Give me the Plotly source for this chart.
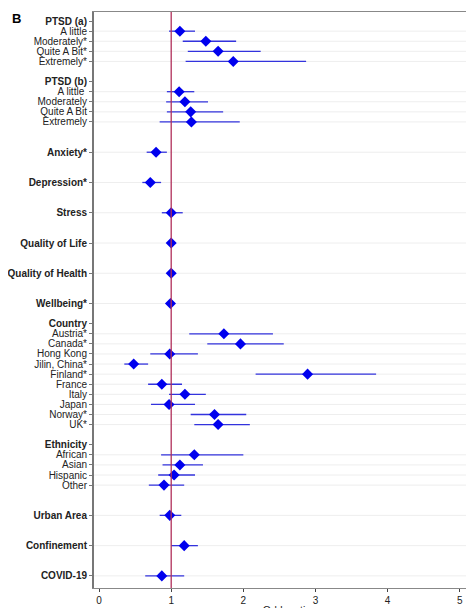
import plotly.graph_objects as go

labels = ["PTSD (a)", "A little", "Moderately*", "Quite A Bit*", "Extremely*",
          "PTSD (b)", "A little ", "Moderately", "Quite A Bit", "Extremely",
          "Anxiety*", "Depression*", "Stress", "Quality of Life", "Quality of Health", "Wellbeing*",
          "Country", "Austria*", "Canada*", "Hong Kong", "Jilin, China*", "Finland*", "France", "Italy",
          "Japan", "Norway*", "UK*",
          "Ethnicity", "African", "Asian", "Hispanic", "Other",
          "Urban Area", "Confinement", "COVID-19"]
rows = [0, 1, 2, 3, 4, 6, 7, 8, 9, 10, 13, 16, 19, 22, 25, 28, 30,
        31, 32, 33, 34, 35, 36, 37, 38, 39, 40, 42, 43, 44, 45, 46, 49, 52, 55]
bold = {"PTSD (a)", "PTSD (b)", "Anxiety*", "Depression*", "Stress", "Quality of Life",
        "Quality of Health", "Wellbeing*", "Country", "Ethnicity", "Urban Area", "Confinement", "COVID-19"}

est = [None, 1.12, 1.48, 1.65, 1.86, None, 1.11, 1.19, 1.27, 1.28, 0.79, 0.71, 1.0, 1.0, 1.0, 0.99,
       None, 1.73, 1.96, 0.98, 0.48, 2.89, 0.87, 1.19, 0.97, 1.60, 1.65,
       None, 1.32, 1.12, 1.04, 0.90, 0.98, 1.18, 0.87]
lo = [None, 0.97, 1.16, 1.23, 1.20, None, 0.94, 0.93, 0.94, 0.84, 0.66, 0.60, 0.87, 0.98, 0.98, 0.97,
      None, 1.25, 1.50, 0.71, 0.35, 2.17, 0.68, 0.97, 0.72, 1.27, 1.32,
      None, 0.86, 0.88, 0.82, 0.69, 0.84, 1.00, 0.64]
hi = [None, 1.33, 1.90, 2.24, 2.87, None, 1.32, 1.51, 1.72, 1.95, 0.94, 0.86, 1.16, 1.02, 1.02, 1.01,
      None, 2.41, 2.56, 1.37, 0.68, 3.84, 1.15, 1.48, 1.33, 2.04, 2.09,
      None, 2.00, 1.44, 1.33, 1.18, 1.14, 1.37, 1.18]

fig = go.Figure()
for y, e, l, h in zip(rows, est, lo, hi):
    if e is None:
        continue
    fig.add_trace(go.Scatter(x=[l, h], y=[y, y], mode="lines",
                             line=dict(color="#3333dd", width=1.3), showlegend=False, hoverinfo="skip"))
py = [r for r, e in zip(rows, est) if e is not None]
pe = [e for e in est if e is not None]
fig.add_trace(go.Scatter(x=pe, y=py, mode="markers",
                         marker=dict(symbol="diamond", size=8.5, color="#0000ee"), showlegend=False))

ticktext = [f"<b>{t}</b>" if t in bold else t for t in labels]

fig.add_vline(x=1, line=dict(color="#b0305a", width=1.3))
for r in py:
    fig.add_hline(y=r, line=dict(color="#eeeeee", width=1), layer="below")
fig.update_layout(
    width=474, height=608, plot_bgcolor="white", paper_bgcolor="white",
    margin=dict(l=86, r=2, t=4, b=28),
    font=dict(family="Liberation Sans, Arial", size=10, color="#222"),
    xaxis=dict(range=[-0.07, 5.28], tickvals=[0, 1, 2, 3, 4, 5], ticks="outside", ticklen=3,
               showgrid=False, zeroline=False, showline=True, linecolor="#888", mirror=True,
               automargin=False, title=dict(text="Odds ratio", standoff=1, font=dict(size=10.5)),
               tickfont=dict(size=10)),
    yaxis=dict(range=[56.2, -0.9], tickvals=rows, ticktext=ticktext, showgrid=False,
               zeroline=False, showline=True, linecolor="#777", linewidth=2, mirror=True,
               automargin=False, ticks="outside", ticklen=3, tickcolor="#777", tickfont=dict(size=10)),
    annotations=[dict(text="<b>B</b>", x=-0.218, y=1.005, xref="paper", yref="paper",
                      xanchor="left", yanchor="top", showarrow=False, font=dict(size=13, color="black"))],
)
fig.write_html("out.html")
